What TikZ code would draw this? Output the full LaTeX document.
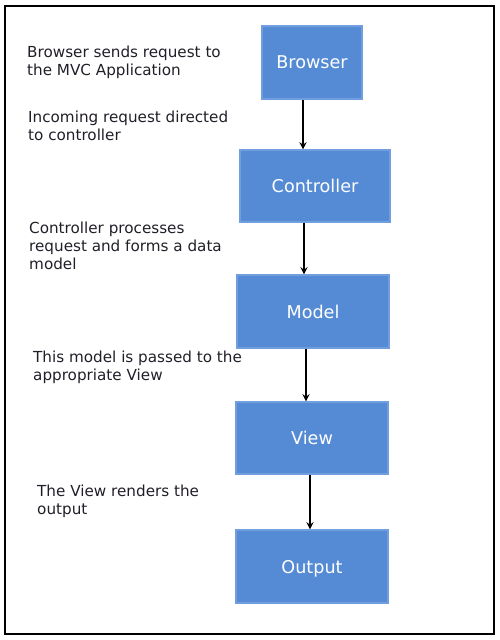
\documentclass[tikz,border=0pt]{standalone}
\usepackage{fontspec}
\setmainfont{DejaVu Sans}
\definecolor{boxfill}{RGB}{85,139,212}
\definecolor{boxline}{RGB}{112,158,222}
\definecolor{note}{RGB}{34,30,40}
\begin{document}
\begin{tikzpicture}[x=1pt,y=-1pt,>=stealth,
  box/.style = {draw=boxline, line width=1.2pt, fill=boxfill, text=white, font=\fontsize{17.6}{20}\selectfont, inner sep=0pt, text depth=-3pt},
  note/.style = {anchor=north west, align=left, text=note, inner sep=0pt, font=\fontsize{15.2}{18}\selectfont},
  flow/.style = {->, line width=2.2pt},]
\useasboundingbox (0,0) rectangle (499,640);
\draw[line width=2pt] (5,6) rectangle (494,634);
\node (Browser) at (312,62.5)[box,minimum width=100pt,minimum height=73pt] {Browser};
\node (Controller) at (315,186)[box,minimum width=150pt,minimum height=72pt] {Controller};
\node (Model) at (313,311.5)[box,minimum width=152pt,minimum height=73pt] {Model};
\node (View) at (312,438)[box,minimum width=152pt,minimum height=72pt] {View};
\node (Output) at (312,566.5)[box,minimum width=152pt,minimum height=73pt] {Output};

\node (t1) at (27,46)[note] {Browser sends request to\\the MVC Application};
\node (t2) at (28,111)[note] {Incoming request directed\\to controller};
\node (t3) at (29,222)[note] {Controller processes\\request and forms a data\\model};
\node (t4) at (33,351)[note] {This model is passed to the\\appropriate View};
\node (t5) at (37,485)[note] {The View renders the\\output};

\draw[flow] ([xshift=-9pt]Browser.south) -- ([xshift=-9pt]Browser.south |- Controller.north);
\draw[flow] ([xshift=-11pt]Controller.south) -- ([xshift=-11pt]Controller.south |- Model.north);
\draw[flow] ([xshift=-7pt]Model.south) -- ([xshift=-7pt]Model.south |- View.north);
\draw[flow] ([xshift=-2pt]View.south) -- ([xshift=-2pt]View.south |- Output.north);
\end{tikzpicture}
\end{document}
